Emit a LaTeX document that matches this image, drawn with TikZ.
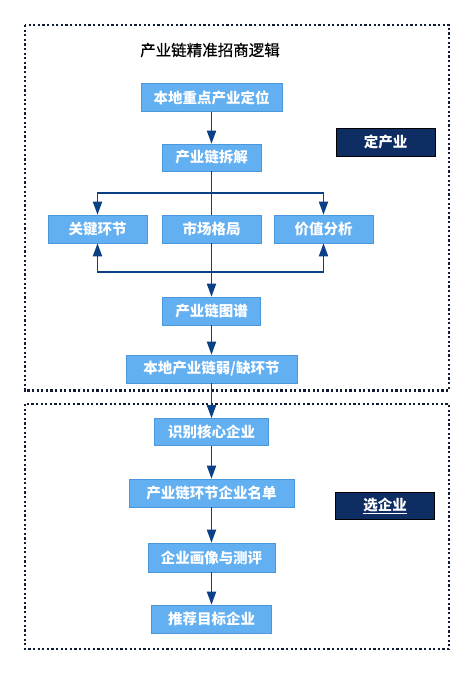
\documentclass[tikz,border=0pt]{standalone}
\usepackage{fontspec}
\setmainfont{Noto Sans CJK SC}
\newfontfamily\titlefont{Noto Sans CJK SC}[FakeBold=0.5]
\usetikzlibrary{arrows.meta,positioning}
\definecolor{lightbox}{HTML}{62AFF1}
\definecolor{lightedge}{HTML}{4C97DA}
\definecolor{darkbox}{HTML}{0E2D62}
\definecolor{arrowblue}{HTML}{0B3F86}
\definecolor{frame}{HTML}{101C36}
\tikzset{
  lbox/.style={fill=lightbox,draw=lightedge,line width=0.6pt,minimum height=28pt,inner sep=0pt,text=white,font=\fontsize{14.5pt}{16pt}\selectfont\bfseries},
  dbox/.style={fill=darkbox,draw=black,line width=1pt,minimum width=99pt,minimum height=28pt,inner sep=0pt,text=white,font=\fontsize{14.5pt}{16pt}\selectfont\bfseries},
  arr/.style={draw=arrowblue,line width=1.8pt,-{Triangle[width=9pt,length=13pt]}},
  ln/.style={draw=arrowblue,line width=1.8pt},
  frm/.style={draw=frame,line width=2.2pt,dash pattern=on 2.2pt off 2.4pt}
}
\begin{document}
\begin{tikzpicture}[x=1pt,y=-1pt]
\useasboundingbox[fill=white] (0,0) rectangle (474,673);
% frames
\draw[frm] (25,25) rectangle (449,390.5);
\draw[frm] (25,404) rectangle (449,649);
% title
\node[font=\titlefont\fontsize{15.5pt}{17pt}\selectfont] (title) at (210,50) {产业链精准招商逻辑};
% top section
\node[lbox,minimum width=141pt] (pos) at (211.5,97.5) {本地重点产业定位};
\node[lbox,minimum width=99pt,minimum height=27pt] (split) at (211.5,157.5) {产业链拆解};
\node[dbox] (dcy) at (385.5,142) {定产业};
\node[lbox,minimum width=99pt] (key) at (97.5,229) {关键环节};
\node[lbox,minimum width=99pt] (mkt) at (211.5,229) {市场格局};
\node[lbox,minimum width=99pt] (val) at (323.5,229) {价值分析};
\node[lbox,minimum width=98pt] (map) at (211.5,311) {产业链图谱};
\node[lbox,minimum width=171pt] (weak) at (211.5,369) {本地产业链弱/缺环节};
% bottom section
\node[lbox,minimum width=114pt,minimum height=27pt] (core) at (211.5,432) {识别核心企业};
\node[lbox,minimum width=165pt] (list) at (211.5,493) {产业链环节企业名单};
\node[lbox,minimum width=127pt,minimum height=29pt] (prof) at (211.5,557.5) {企业画像与测评};
\node[lbox,minimum width=120pt] (rec) at (211.5,619) {推荐目标企业};
\node[dbox,minimum height=27pt] (xqy) at (385,506) {\underline{选企业}};
% connectors
\draw[arr] (pos) -- (split);
\coordinate (jt) at (split.south |- 0,192.7);
\coordinate (jb) at (mkt.south |- 0,271.7);
\draw[ln] (split.south) -- (mkt.north);
\draw[arr] (jt) -| (key.north);
\draw[arr] (jt) -| (val.north);
\draw[arr] (mkt.south) -- (map.north);
\draw[arr] (jb) -| (key.south);
\draw[arr] (jb) -| (val.south);
\draw[arr] (map) -- (weak);
\draw[arr] (weak) -- (core);
\draw[arr] (core) -- (list);
\draw[arr] (list) -- (prof);
\draw[arr] (prof) -- (rec);
\end{tikzpicture}
\end{document}
